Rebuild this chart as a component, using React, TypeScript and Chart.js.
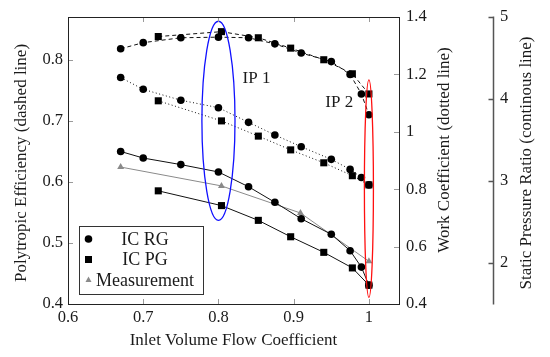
import React, { useEffect, useRef } from 'react';
import { Chart, registerables } from 'chart.js';

Chart.register(...registerables);

// ---------- data ----------
const rgFlow = [0.67, 0.70, 0.75, 0.80, 0.84, 0.875, 0.91, 0.95, 0.975, 0.99, 1.0];
const rgEfficiency = [0.818, 0.828, 0.836, 0.837, 0.836, 0.826, 0.811, 0.797, 0.776, 0.744, 0.71];
const rgWork = [1.189, 1.148, 1.110, 1.084, 1.033, 0.989, 0.948, 0.904, 0.869, 0.841, 0.815];
const rgPressure = [3.36, 3.28, 3.20, 3.11, 2.93, 2.74, 2.54, 2.35, 2.15, 1.95, 1.73];

const pgFlow = [0.72, 0.804, 0.853, 0.896, 0.94, 0.978, 1.0];
const pgEfficiency = [0.838, 0.846, 0.836, 0.819, 0.800, 0.777, 0.744];
const pgWork = [1.108, 1.038, 0.985, 0.937, 0.892, 0.847, 0.815];
const pgPressure = [2.88, 2.70, 2.52, 2.32, 2.13, 1.94, 1.73];

const measFlow = [0.67, 0.804, 0.909, 1.0];
const measPressure = [3.17, 2.94, 2.61, 2.02];

const xTicks = [0.6, 0.7, 0.8, 0.9, 1];
const effTicks = [0.4, 0.5, 0.6, 0.7, 0.8];
const workTicks = [0.4, 0.6, 0.8, 1, 1.2, 1.4];
const pressureTicks = [2, 3, 4, 5];

const xTitle = 'Inlet Volume Flow Coefficient';
const effTitle = 'Polytropic Efficiency (dashed line)';
const workTitle = 'Work Coefficient (dotted line)';
const pressureTitle = 'Static Pressure Ratio (continous line)';

// annotation ellipses (data units on x / efficiency axis)
const ellipseCx = [0.8, 1.0];
const ellipseCy = [0.70, 0.589];
const ellipseRx = [0.022, 0.006];
const ellipseRy = [0.163, 0.178];
const ellipseColors = ['#1010ff', '#ff1010'];

const noteText = ['IP 1', 'IP 2'];
const noteX = [0.832, 0.942];
const noteY = [0.769, 0.7295];

// ---------- styling ----------
const FONT = '"Liberation Serif", "Times New Roman", serif';
const TEXT = '#1a1a1a';
const GRAY = '#8a8a8a';

const pts = (xs: number[], ys: number[]) => xs.map((x, i) => ({ x, y: ys[i] }));
const fmt = (v: number) => String(+Number(v).toFixed(2));
const setTicks = (arr: number[]) => (s: any) => {
  s.ticks = arr.map((v) => ({ value: v }));
};

const decor = {
  id: 'decor',
  afterDatasetsDraw(chart: any) {
    const { ctx, scales } = chart;
    const x = scales.x;
    const y = scales.y;
    ellipseCx.forEach((cxv, i) => {
      const cx = x.getPixelForValue(cxv);
      const cy = y.getPixelForValue(ellipseCy[i]);
      const rx = Math.abs(x.getPixelForValue(cxv + ellipseRx[i]) - cx);
      const ry = Math.abs(y.getPixelForValue(ellipseCy[i] + ellipseRy[i]) - cy);
      ctx.save();
      ctx.beginPath();
      ctx.ellipse(cx, cy, rx, ry, 0, 0, Math.PI * 2);
      ctx.strokeStyle = ellipseColors[i];
      ctx.lineWidth = 1.3;
      ctx.stroke();
      ctx.restore();
    });
  },
  afterDraw(chart: any) {
    const { ctx, scales, chartArea } = chart;
    const { left, right, top, bottom } = chartArea;
    const x = scales.x, y = scales.y, y1 = scales.y1, y2 = scales.y2;
    ctx.save();

    // inward tick marks
    ctx.strokeStyle = '#9a9a9a';
    ctx.lineWidth = 1;
    ctx.beginPath();
    xTicks.forEach((v) => {
      const p = Math.round(x.getPixelForValue(v)) + 0.5;
      ctx.moveTo(p, bottom); ctx.lineTo(p, bottom - 5);
      ctx.moveTo(p, top); ctx.lineTo(p, top + 5);
    });
    effTicks.forEach((v) => {
      const p = Math.round(y.getPixelForValue(v)) + 0.5;
      ctx.moveTo(left, p); ctx.lineTo(left + 5, p);
    });
    workTicks.forEach((v) => {
      const p = Math.round(y1.getPixelForValue(v)) + 0.5;
      ctx.moveTo(right, p); ctx.lineTo(right - 5, p);
    });
    ctx.stroke();

    // frame
    ctx.strokeStyle = '#222';
    ctx.lineWidth = 1;
    ctx.strokeRect(Math.round(left) + 0.5, Math.round(top) + 0.5, Math.round(right - left), Math.round(bottom - top));

    // separate pressure axis
    const ax = Math.round(y2.left) + 0.5;
    ctx.strokeStyle = '#555';
    ctx.lineWidth = 1.5;
    ctx.beginPath();
    ctx.moveTo(ax, y2.getPixelForValue(5) - 0.5);
    ctx.lineTo(ax, y2.getPixelForValue(1.5) + 0.5);
    pressureTicks.forEach((v) => {
      const p = Math.round(y2.getPixelForValue(v)) + 0.5;
      ctx.moveTo(ax - 5, p); ctx.lineTo(ax, p);
    });
    ctx.stroke();

    // titles
    ctx.fillStyle = TEXT;
    ctx.font = `17px ${FONT}`;
    ctx.textAlign = 'center';
    ctx.textBaseline = 'middle';
    ctx.fillText(xTitle, (left + right) / 2, 341);
    const vtitle = (t: string, px: number, py: number) => {
      ctx.save();
      ctx.translate(px, py);
      ctx.rotate(-Math.PI / 2);
      ctx.fillText(t, 0, 0);
      ctx.restore();
    };
    vtitle(effTitle, 22, 163);
    vtitle(workTitle, 445, 150);
    vtitle(pressureTitle, 527, 163);

    // notes
    ctx.textAlign = 'left';
    noteText.forEach((t, i) => {
      ctx.fillText(t, x.getPixelForValue(noteX[i]), y.getPixelForValue(noteY[i]));
    });

    // legend
    const bx = left + 11, by = bottom - 78, bw = 124, bh = 68;
    ctx.fillStyle = '#fff';
    ctx.fillRect(bx, by, bw, bh);
    ctx.strokeStyle = '#333';
    ctx.lineWidth = 1;
    ctx.strokeRect(Math.round(bx) + 0.5, Math.round(by) + 0.5, bw, bh);
    const rows = [
      { label: 'IC RG', shape: 'circle', color: '#000' },
      { label: 'IC PG', shape: 'rect', color: '#000' },
      { label: 'Measurement', shape: 'triangle', color: GRAY },
    ];
    rows.forEach((r, i) => {
      const cy = by + 13 + i * 20.5;
      const mx = bx + 9.5;
      ctx.fillStyle = r.color;
      ctx.beginPath();
      if (r.shape === 'circle') ctx.arc(mx, cy, 3.8, 0, Math.PI * 2);
      else if (r.shape === 'rect') ctx.rect(mx - 3.5, cy - 3.5, 7, 7);
      else {
        ctx.moveTo(mx, cy - 3.5);
        ctx.lineTo(mx + 3, cy + 2);
        ctx.lineTo(mx - 3, cy + 2);
        ctx.closePath();
      }
      ctx.fill();
      ctx.fillStyle = TEXT;
      ctx.textAlign = 'center';
      ctx.font = `18px ${FONT}`;
      ctx.fillText(r.label, bx + 66, cy + 1);
    });

    ctx.restore();
  },
};

export default function App() {
  const ref = useRef<HTMLCanvasElement>(null);
  useEffect(() => {
    document.body.style.margin = '0';
    const canvas = ref.current;
    if (!canvas) return;
    const line = (label: string, xs: number[], ys: number[], axis: string, dash: number[], shape: string) => ({
      label,
      data: pts(xs, ys),
      yAxisID: axis,
      showLine: true,
      borderColor: '#111',
      borderWidth: 1,
      borderDash: dash,
      pointStyle: shape,
      pointRadius: shape === 'rect' ? 5 : 3.8,
      pointBackgroundColor: '#000',
      pointBorderWidth: 0,
      fill: false,
    });
    const tickFont = { family: FONT, size: 16.5 };
    const chart = new Chart(canvas, {
      type: 'scatter',
      data: {
        datasets: [
          line('IC RG', rgFlow, rgEfficiency, 'y', [4, 3], 'circle'),
          line('IC PG', pgFlow, pgEfficiency, 'y', [4, 3], 'rect'),
          line('IC RG', rgFlow, rgWork, 'y1', [1, 2.5], 'circle'),
          line('IC PG', pgFlow, pgWork, 'y1', [1, 2.5], 'rect'),
          line('IC RG', rgFlow, rgPressure, 'y2', [], 'circle'),
          line('IC PG', pgFlow, pgPressure, 'y2', [], 'rect'),
          {
            label: 'Measurement',
            data: pts(measFlow, measPressure),
            yAxisID: 'y2',
            showLine: true,
            borderColor: GRAY,
            borderWidth: 1,
            pointStyle: 'triangle',
            pointRadius: 4,
            pointBackgroundColor: GRAY,
            pointBorderWidth: 0,
            fill: false,
          },
        ],
      },
      options: {
        animation: false,
        responsive: false,
        devicePixelRatio: 1,
        layout: { padding: { top: 17, left: 0, right: 0, bottom: 0 } },
        plugins: { legend: { display: false }, tooltip: { enabled: false } },
        scales: {
          x: {
            type: 'linear',
            min: 0.6,
            max: 1.04,
            afterBuildTicks: setTicks(xTicks),
            afterFit: (s: any) => { s.height = 53; },
            grid: { display: false, drawTicks: false },
            border: { display: false },
            ticks: { font: tickFont, color: TEXT, padding: 4, maxRotation: 0, autoSkip: false, callback: (v: any) => fmt(v) },
          },
          y: {
            type: 'linear',
            position: 'left',
            min: 0.4,
            max: 0.87,
            afterBuildTicks: setTicks(effTicks),
            afterFit: (s: any) => { s.width = 68; },
            grid: { display: false, drawTicks: false },
            border: { display: false },
            ticks: { font: tickFont, color: TEXT, padding: 5, autoSkip: false, callback: (v: any) => fmt(v) },
          },
          y1: {
            type: 'linear',
            position: 'right',
            min: 0.4,
            max: 1.4,
            afterBuildTicks: setTicks(workTicks),
            afterFit: (s: any) => { s.width = 94; },
            grid: { display: false, drawTicks: false },
            border: { display: false },
            ticks: { font: tickFont, color: TEXT, padding: 7, autoSkip: false, callback: (v: any) => fmt(v) },
          },
          y2: {
            type: 'linear',
            position: 'right',
            min: 1.5,
            max: 5,
            afterBuildTicks: setTicks(pressureTicks),
            afterFit: (s: any) => { s.width = 57; },
            grid: { display: false, drawTicks: false },
            border: { display: false },
            ticks: { font: tickFont, color: TEXT, padding: 7, autoSkip: false, callback: (v: any) => fmt(v) },
          },
        },
      },
      plugins: [decor],
    } as any);
    return () => chart.destroy();
  }, []);
  return (
    <div style={{ width: 550, height: 357 }}>
      <canvas ref={ref} width={550} height={357} />
    </div>
  );
}
